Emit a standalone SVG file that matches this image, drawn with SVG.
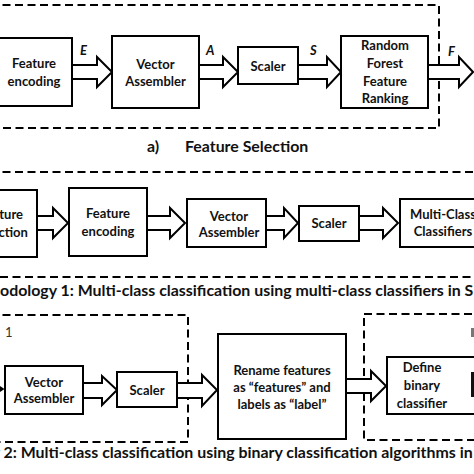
<svg xmlns="http://www.w3.org/2000/svg" width="474" height="474" viewBox="0 0 474 474">
<style>
.bg{fill:#fff}
.box{fill:#fff;stroke:#000;stroke-width:2}
.dash{fill:none;stroke:#000;stroke-width:2;stroke-dasharray:8 4.5}
.arr{fill:#fff;stroke:#000;stroke-width:2;stroke-linejoin:miter}
.t{font-family:Lato,"Open Sans","DejaVu Sans",sans-serif;font-weight:bold;font-size:13px;fill:#111;text-anchor:middle}
.lbl{font-family:Lato,"Open Sans","DejaVu Sans",sans-serif;font-weight:bold;font-style:italic;font-size:13px;fill:#111}
.cap{font-family:Lato,"Open Sans","DejaVu Sans",sans-serif;font-weight:bold;font-size:15.9px;fill:#111}
.small{font-family:Lato,"Open Sans","DejaVu Sans",sans-serif;font-size:13px;fill:#333}
</style>
<rect class="bg" x="0" y="0" width="474" height="474"/>

<!-- group frames -->
<g id="frames">
  <rect class="dash" x="-10" y="5" width="449" height="123"/>
  <rect class="dash" x="-10" y="172" width="494" height="105"/>
  <rect class="dash" x="-10" y="315" width="198" height="127"/>
  <rect class="dash" x="364" y="314" width="130" height="126"/>
</g>

<!-- connectors -->
<g id="connectors">
  <path class="arr" d="M72,65 H97 V57 L112,72 L97,87 V79 H72"/>
  <path class="arr" d="M199,65 H223 V57 L238,72 L223,87 V79 H199"/>
  <path class="arr" d="M298,65 H327 V57 L341,72 L327,87 V79 H298"/>
  <path class="arr" d="M428,65 H459 V57 L473,72 L459,87 V79 H428"/>

  <path class="arr" d="M37,216 H53 V208 L68,223 L53,238 V230 H37"/>
  <path class="arr" d="M147,216 H170 V208 L185,223 L170,238 V230 H147"/>
  <path class="arr" d="M266,216 H284 V208 L298,223 L284,238 V230 H266"/>
  <path class="arr" d="M359,216 H383 V208 L398,223 L383,238 V230 H359"/>

  <polygon points="0,386 4.5,389 0,392" fill="#000"/>
  <path class="arr" d="M83,383 H102 V376 L117,390 L102,405 V398 H83"/>
  <path class="arr" d="M177,383 H202 V375 L217,390 L202,406 V398 H177"/>
  <path class="arr" d="M346,379 H371 V371 L386,386 L371,401 V393 H346"/>
</g>

<g id="edge-labels">
  <text class="lbl" x="80" y="55">E</text>
  <text class="lbl" x="206" y="55">A</text>
  <text class="lbl" x="310" y="55">S</text>
  <text class="lbl" x="448" y="56">F</text>
</g>

<!-- a) Feature selection -->
<g id="a-feature-encoding">
  <rect class="box" x="-4" y="38" width="76" height="68"/>
  <text class="t" x="34" y="68">Feature</text>
  <text class="t" x="34" y="86">encoding</text>
</g>
<g id="a-vector-assembler">
  <rect class="box" x="112" y="36" width="87" height="72"/>
  <text class="t" x="155.5" y="68.5">Vector</text>
  <text class="t" x="155.5" y="86">Assembler</text>
</g>
<g id="a-scaler">
  <rect class="box" x="238" y="47" width="60" height="37"/>
  <text class="t" x="268" y="71">Scaler</text>
</g>
<g id="a-rf-ranking">
  <rect class="box" x="341" y="36" width="87" height="72"/>
  <text class="t" x="385" y="50">Random</text>
  <text class="t" x="385" y="68">Forest</text>
  <text class="t" x="385" y="86">Feature</text>
  <text class="t" x="385" y="103">Ranking</text>
</g>
<g id="caption-a">
  <text class="cap" x="147" y="152">a)</text>
  <text class="cap" x="185" y="152">Feature Selection</text>
</g>

<!-- Methodology 1 -->
<g id="b-feature-selection">
  <rect class="box" x="-35" y="190" width="72" height="67"/>
  <text class="t" x="1" y="219">Feature</text>
  <text class="t" x="1" y="237">Selection</text>
</g>
<g id="b-feature-encoding">
  <rect class="box" x="69" y="188" width="78" height="68"/>
  <text class="t" x="108" y="218">Feature</text>
  <text class="t" x="108" y="236">encoding</text>
</g>
<g id="b-vector-assembler">
  <rect class="box" x="187" y="199" width="79" height="48"/>
  <text class="t" x="229" y="221">Vector</text>
  <text class="t" x="229" y="237">Assembler</text>
</g>
<g id="b-scaler">
  <rect class="box" x="299" y="206" width="60" height="35"/>
  <text class="t" x="329" y="228">Scaler</text>
</g>
<g id="b-multiclass">
  <rect class="box" x="400" y="199" width="100" height="48"/>
  <text class="t" x="443" y="219">Multi-Class</text>
  <text class="t" x="443" y="236">Classifiers</text>
</g>
<g id="caption-b">
  <text class="cap" x="-38" y="296">Methodology 1: Multi-class classification using multi-class classifiers in S</text>
</g>

<!-- Methodology 2 -->
<text class="small" x="5" y="337">1</text>
<g id="c-vector-assembler">
  <rect class="box" x="5" y="366" width="78" height="48"/>
  <text class="t" x="44" y="387">Vector</text>
  <text class="t" x="44" y="403">Assembler</text>
</g>
<g id="c-scaler">
  <rect class="box" x="117" y="372" width="60" height="35"/>
  <text class="t" x="147" y="395">Scaler</text>
</g>
<g id="c-rename">
  <rect class="box" x="218" y="334" width="128" height="105"/>
  <text class="t" x="282" y="374.5">Rename features</text>
  <text class="t" x="282" y="391.5">as “features” and</text>
  <text class="t" x="282" y="408.5">labels as “label”</text>
</g>
<g id="c-define-binary">
  <rect class="box" x="387" y="357" width="100" height="57"/>
  <text class="t" x="422" y="372">Define</text>
  <text class="t" x="422" y="390">binary</text>
  <text class="t" x="422" y="407.5">classifier</text>
  <rect x="471" y="372" width="3" height="25" fill="#111"/>
</g>
<rect x="471" y="328" width="3" height="9" fill="#777"/>
<g id="caption-c">
  <text class="cap" x="-95" y="458">Methodology 2: Multi-class classification using binary classification algorithms in</text>
</g>
</svg>
